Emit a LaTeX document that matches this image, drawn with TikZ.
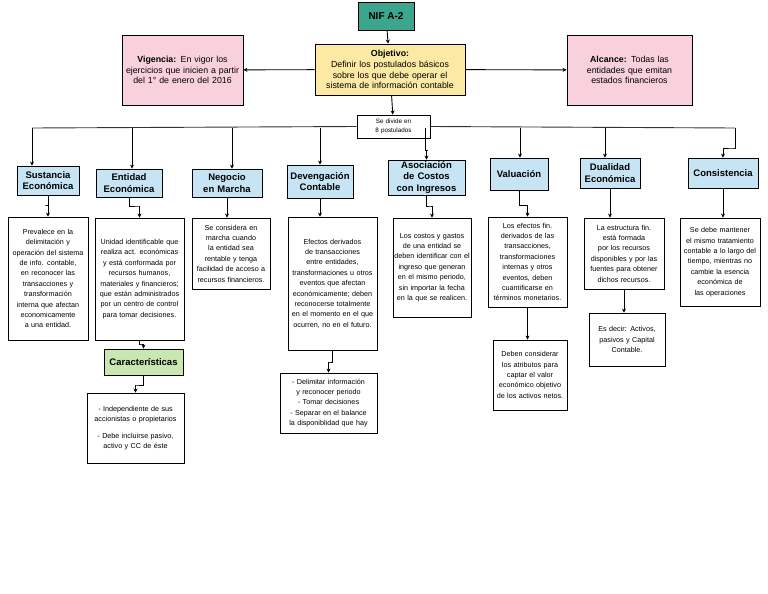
\documentclass[tikz,border=0pt]{standalone}
\usepackage{fontspec}
\setmainfont{Liberation Sans}
\usetikzlibrary{calc,arrows.meta}
\definecolor{teal1}{HTML}{3BA68D}
\definecolor{yel}{HTML}{FCE9A4}
\definecolor{pnk}{HTML}{F8D1DD}
\definecolor{blu}{HTML}{C6E4F4}
\definecolor{grn}{HTML}{C9E7B1}
\hyphenpenalty=10000 \exhyphenpenalty=10000
\begin{document}
\begin{tikzpicture}[x=1pt,y=-1pt,
 bx/.style={draw=black,line width=0.8pt,align=center,inner sep=1pt},
 ttl/.style={bx,fill=blu,font=\fontsize{9.5}{11.5}\selectfont\bfseries},
 dsc/.style={bx,fill=white,font=\fontsize{7.2}{10.4}\selectfont},
 arr/.style={draw=black,line width=0.9pt,-{Stealth[length=4pt,width=4pt]}},
 ln/.style={draw=black!80,line width=0.9pt}]
\useasboundingbox (0,0) rectangle (768,594);
\fill[white] (0,0) rectangle (768,594);
% top
\node[bx,fill=teal1,minimum width=56pt,minimum height=28pt,font=\fontsize{10}{11}\selectfont\bfseries] (nif) at (386,16) {NIF A-2};
\node[bx,fill=yel,minimum width=150pt,minimum height=51pt,text width=146pt,font=\fontsize{8.8}{10.8}\selectfont] (obj) at (390,69.5) {\textbf{Objetivo:}\\Definir los postulados básicos sobre los que debe operar el sistema de información contable};
\node[bx,fill=pnk,minimum width=121pt,minimum height=70pt,text width=115pt,font=\fontsize{8.8}{10.8}\selectfont] (vig) at (182.5,70) {\textbf{Vigencia:} En vigor los ejercicios que inicien a partir del 1° de enero del 2016};
\node[bx,fill=pnk,minimum width=125pt,minimum height=70pt,text width=110pt,font=\fontsize{8.8}{10.8}\selectfont] (alc) at (629.5,70) {\textbf{Alcance:} Todas las entidades que emitan estados financieros};
\node[bx,fill=white,minimum width=73pt,minimum height=23pt,text width=60pt,font=\fontsize{6.3}{8.5}\selectfont] (div) at (393.5,126.5) {Se divide en 8 postulados};
\draw[arr] (nif) -- (obj);
\draw[arr] (obj) -- (vig);
\draw[arr] (obj) -- (alc);
\draw[arr] (obj) -- (div);
\draw[ln] (div.west) -- (32,128);
\draw[ln] (div.east) -- (735,128);
% titles
\node[ttl,minimum width=62pt,minimum height=29pt,text width=60pt] (t1) at (48,180.5) {Sustancia Económica};
\node[ttl,minimum width=66pt,minimum height=28pt,text width=64pt] (t2) at (129,183) {Entidad Económica};
\node[ttl,minimum width=70pt,minimum height=28pt,text width=66pt] (t3) at (227,183) {Negocio en Marcha};
\node[ttl,minimum width=66pt,minimum height=33pt,text width=64pt] (t4) at (320,181.5) {Devengación Contable};
\node[ttl,minimum width=77pt,minimum height=35pt,text width=75pt] (t5) at (426.5,177.5) {Asociación de Costos con Ingresos};
\node[ttl,minimum width=58pt,minimum height=32pt,text width=56pt] (t6) at (519,174) {Valuación};
\node[ttl,minimum width=60pt,minimum height=30pt,text width=58pt] (t7) at (610,173) {Dualidad Económica};
\node[ttl,minimum width=70pt,minimum height=30pt,text width=68pt] (t8) at (723,173) {Consistencia};
\coordinate (b1) at (32,128); \coordinate (b2) at (132,128); \coordinate (b3) at (232,128);
\coordinate (b4) at (320,128); \coordinate (b5) at (425,128); \coordinate (b6) at (520,128);
\coordinate (b7) at (605,128); \coordinate (b8) at (735,128);
\draw[arr] (b1) -- (b1 |- t1.north);
\draw[arr] (b2) -- (b2 |- t2.north);
\draw[arr] (b3) -- (b3 |- t3.north);
\draw[arr] (b4) -- (b4 |- t4.north);
\draw[arr] (b5) |- (428,150) -| (t5.north);
\draw[arr] (b6) -- (b6 |- t6.north);
\draw[arr] (b7) -- (b7 |- t7.north);
\draw[arr] (b8) |- (733,148) -| (t8.north);
% descriptions
\node[dsc,minimum width=80pt,minimum height=123pt,text width=72pt] (d1) at (48,278.5) {Prevalece en la delimitación y operación del sistema de info. contable, en reconocer las transacciones y transformación interna que afectan economicamente a una entidad.};
\node[dsc,minimum width=89pt,minimum height=122pt,text width=82pt] (d2) at (139.5,279) {Unidad identificable que realiza act. económicas y está conformada por recursos humanos, materiales y financieros; que están administrados por un centro de control para tomar decisiones.};
\node[dsc,minimum width=78pt,minimum height=71pt,text width=75pt] (d3) at (231,253.5) {Se considera en marcha cuando la entidad sea rentable y tenga facilidad de acceso a recursos financieros.};
\node[dsc,minimum width=89pt,minimum height=133pt,text width=82pt] (d4) at (332.5,283.5) {Efectos derivados de transacciones entre entidades, transformaciones u otros eventos que afectan económicamente; deben reconocerse totalmente en el momento en el que ocurren, no en el futuro.};
\node[dsc,minimum width=78pt,minimum height=99pt,text width=76pt] (d5) at (432,267.5) {Los costos y gastos de una entidad se deben identificar con el ingreso que generan en el mismo periodo, sin importar la fecha en la que se realicen.};
\node[dsc,minimum width=79pt,minimum height=90pt,text width=77pt] (d6) at (527.5,262) {Los efectos fin. derivados de las transacciones, transformaciones internas y otros eventos, deben cuantificarse en términos monetarios.};
\node[dsc,minimum width=80pt,minimum height=71pt,text width=77pt] (d7) at (624,253.5) {La estructura fin. está formada por los recursos disponibles y por las fuentes para obtener dichos recursos.};
\node[dsc,minimum width=80pt,minimum height=88pt,text width=78pt] (d8) at (720,262) {Se debe mantener el mismo tratamiento contable a lo largo del tiempo, mientras no cambie la esencia económica de las operaciones};
\draw[arr] (t1.south) |- (45,205) -| (d1.north);
\draw[arr] (t2.south) |- (140,206) -| (d2.north);
\draw[arr] (t3.south) -- (t3.south |- d3.north);
\draw[arr] (t4.south) -- (t4.south |- d4.north);
\draw[arr] (t5.south) |- (430,206) -| (d5.north);
\draw[arr] (t6.south) |- (519,205) -| (d6.north);
\draw[arr] (t7.south) -- (t7.south |- d7.north);
\draw[arr] (t8.south) -- (t8.south |- d8.north);
% sub boxes
\node[bx,fill=grn,minimum width=79pt,minimum height=26pt,font=\fontsize{9.5}{10}\selectfont\bfseries] (car) at (143.5,362) {Características};
\node[dsc,minimum width=97pt,minimum height=70pt,text width=94pt] (s2) at (135.5,428) {- Independiente de sus accionistas o propietarios\\[6pt]- Debe incluirse pasivo, activo y CC de éste\\[8pt]};
\node[dsc,minimum width=97pt,minimum height=60pt,text width=95pt] (s4) at (328.5,403) {- Delimitar información y reconocer periodo\\- Tomar decisiones\\- Separar en el balance la disponiblidad que hay};
\node[dsc,minimum width=74pt,minimum height=70pt,text width=68pt] (s6) at (530,375) {Deben considerar los atributos para captar el valor económico objetivo de los activos netos.};
\node[dsc,minimum width=76pt,minimum height=53pt,text width=70pt] (s7) at (627,339.5) {Es decir: Activos, pasivos y Capital Contable.\\[8pt]};
\draw[arr] (d2.south) |- (141,344) -| (car.north);
\draw[arr] (car.south) |- (135,385) -| (s2.north);
\draw[arr] (d4.south) |- (330,362) -| (s4.north);
\draw[arr] (d6.south) -- (d6.south |- s6.north);
\draw[arr] (d7.south) -- (d7.south |- s7.north);
\end{tikzpicture}
\end{document}
